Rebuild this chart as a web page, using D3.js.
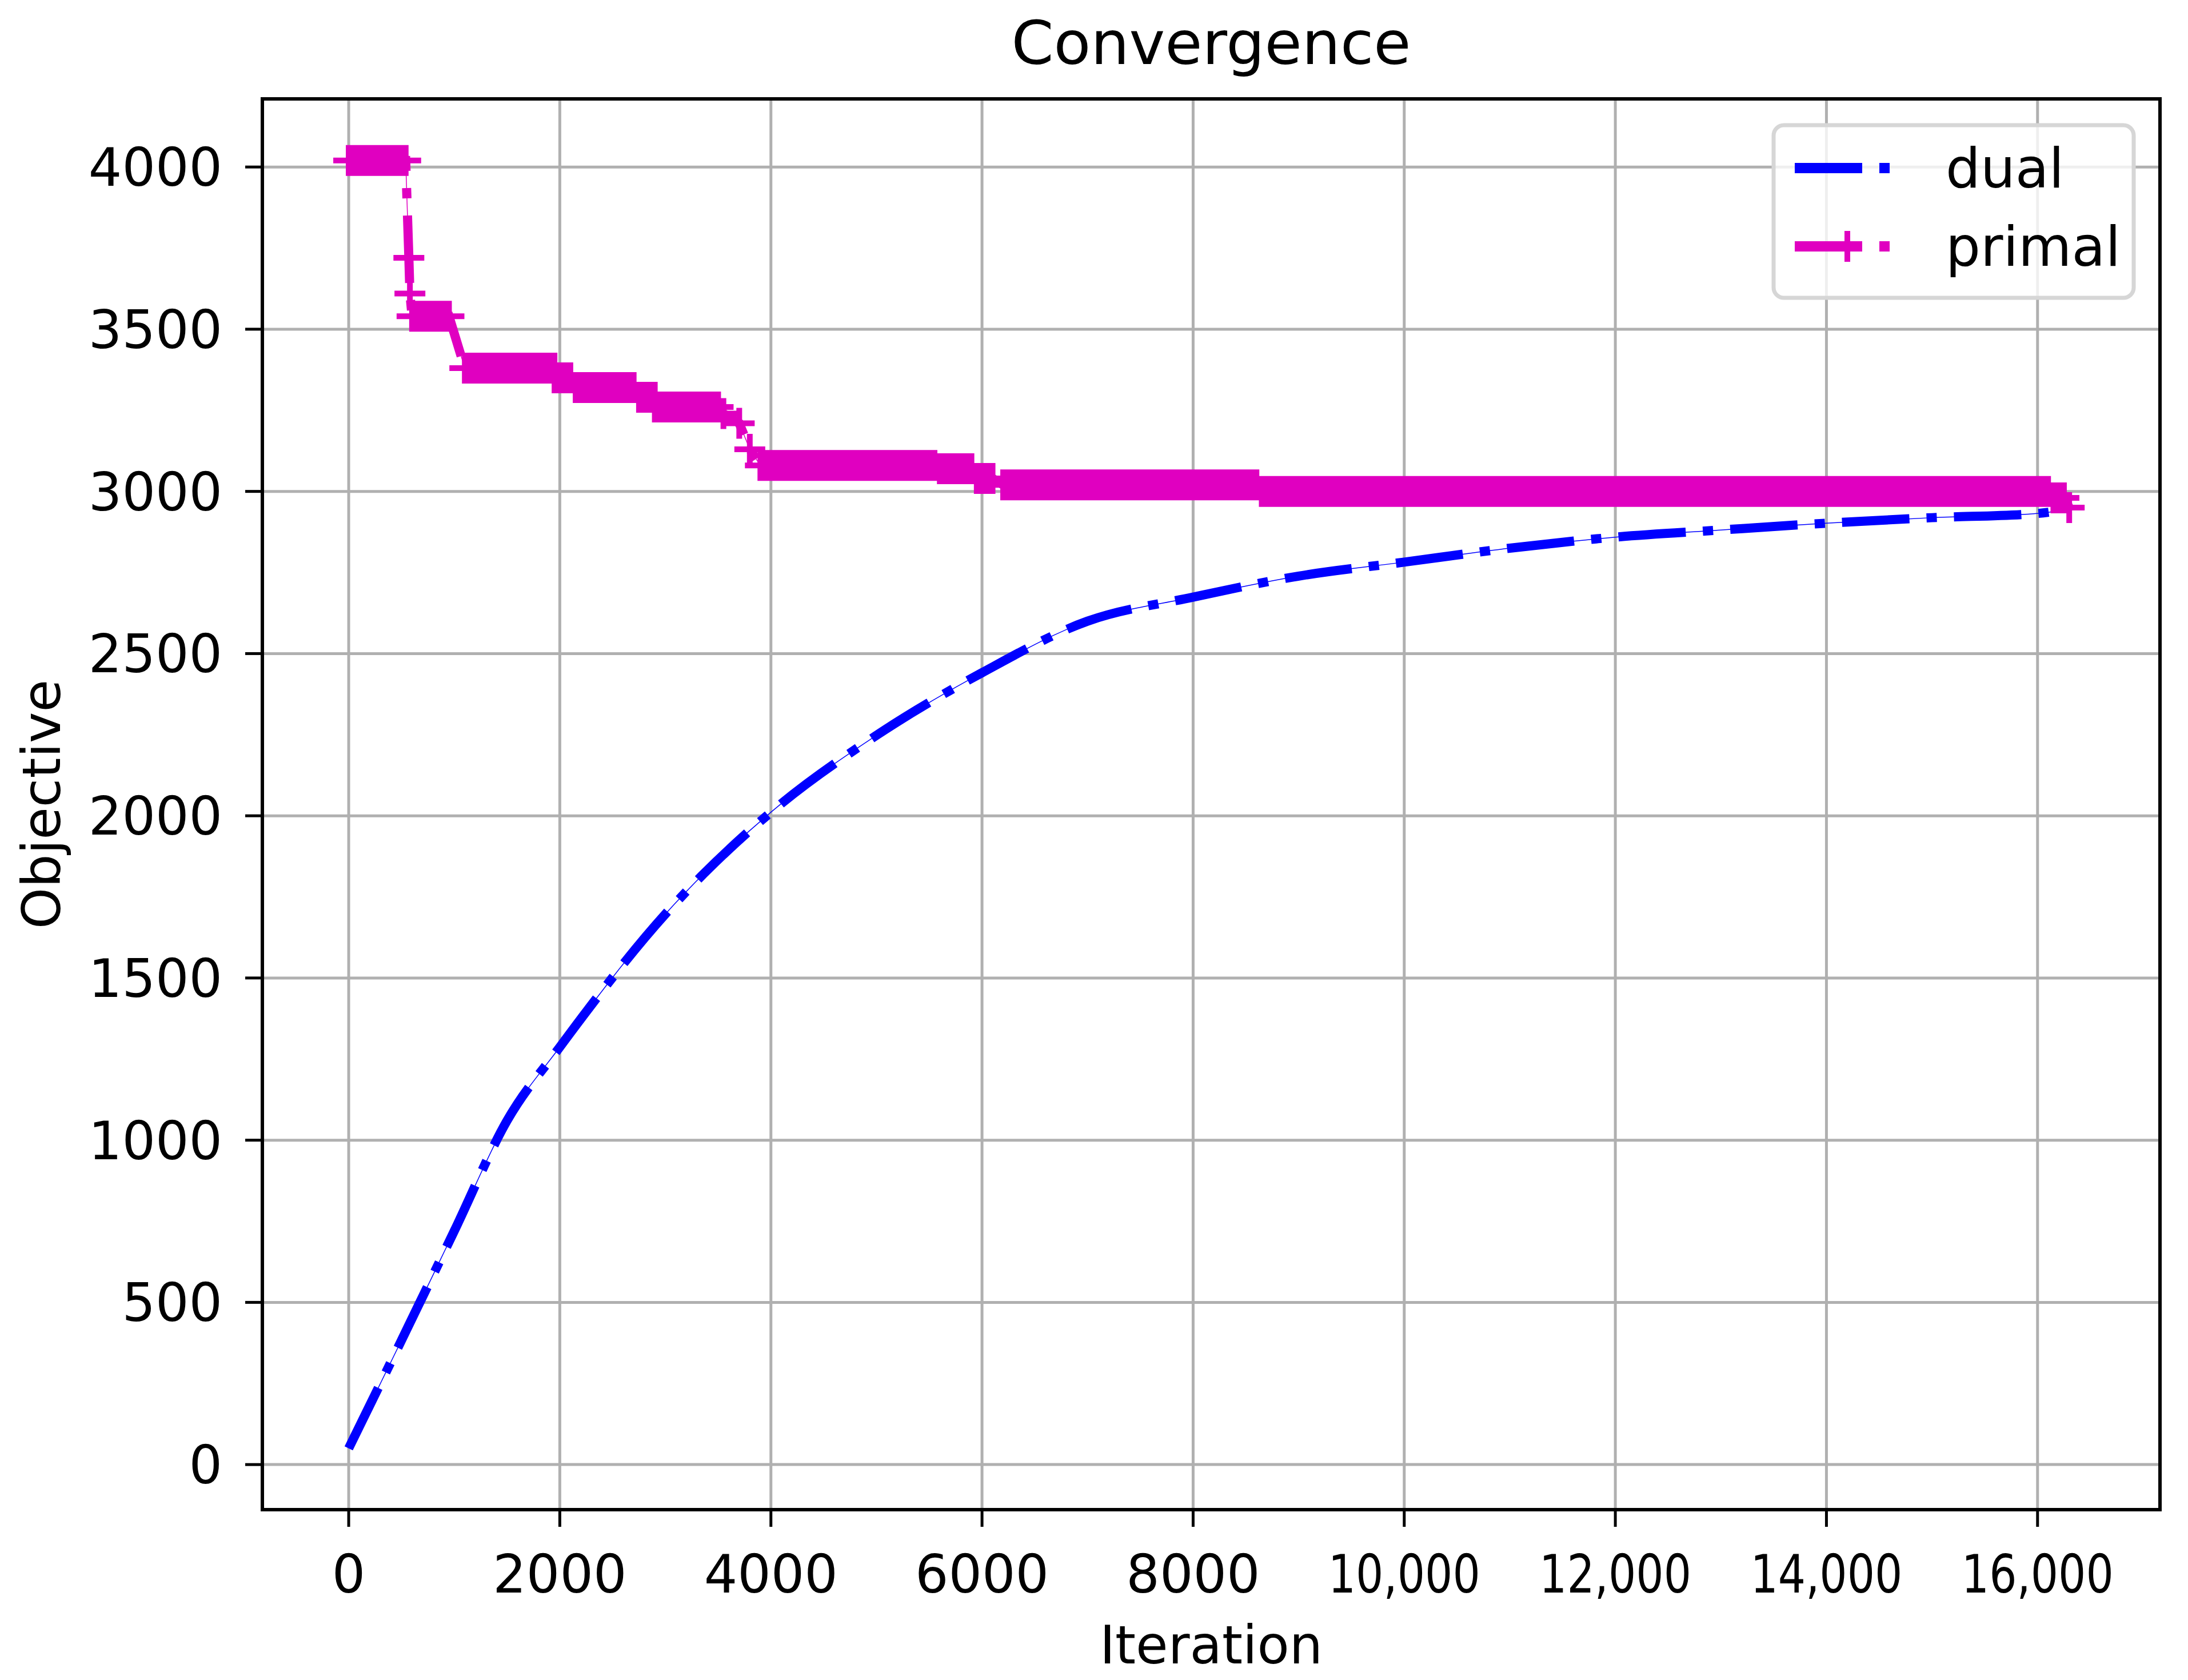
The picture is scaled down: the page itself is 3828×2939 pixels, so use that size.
<!DOCTYPE html>
<html><head><meta charset="utf-8">
<script src="https://cdn.jsdelivr.net/npm/d3@7"></script>
<style>html,body{margin:0;padding:0;background:#fff}</style>
</head><body>
<script>
const dualIter  = [0, 500, 1000, 1500, 2000, 3000, 4000, 5000, 6000, 7000, 8000, 9000, 10000, 11000, 12000, 13000, 14000, 15000, 16000, 16200];
const dualValue = [50, 383, 720, 1060, 1287, 1697, 2011, 2248, 2441, 2600, 2674, 2739, 2782, 2825, 2859, 2881, 2902, 2919, 2932, 2940];
// primal step segments: start iteration, end iteration, value
const primalStart = [0, 570, 580, 600, 1100, 1950, 2150, 2750, 2900, 3550, 3700, 3800, 3900, 5600, 5950, 6200, 8650, 16150, 16300];
const primalEnd   = [540, 570, 580, 950, 1950, 2100, 2700, 2900, 3500, 3550, 3700, 3800, 5550, 5900, 6100, 8600, 16100, 16250, 16300];
const primalValue = [4020, 3720, 3610, 3540, 3380, 3350, 3320, 3290, 3260, 3240, 3210, 3130, 3080, 3070, 3040, 3020, 3000, 2980, 2950];
const xTicks = [0, 2000, 4000, 6000, 8000, 10000, 12000, 14000, 16000];
const xTickLabels = ["0", "2000", "4000", "6000", "8000", "10,000", "12,000", "14,000", "16,000"];
const yTicks = [0, 500, 1000, 1500, 2000, 2500, 3000, 3500, 4000];

const W = 3828, H = 2939;
const L = 459, R = 3779, T = 173, B = 2641;
const svg = d3.select("body").append("svg").attr("width", W).attr("height", H)
  .style("font-family", "DejaVu Sans");
const x = d3.scaleLinear().domain([-818, 17160]).range([L, R]);
const y = d3.scaleLinear().domain([-139, 4210]).range([B, T]);

// grid
const g = svg.append("g");
g.selectAll(".gx").data(xTicks).join("line").attr("x1", d => x(d)).attr("x2", d => x(d))
  .attr("y1", T).attr("y2", B).attr("stroke", "#b0b0b0").attr("stroke-width", 5);
g.selectAll(".gy").data(yTicks).join("line").attr("y1", d => y(d)).attr("y2", d => y(d))
  .attr("x1", L).attr("x2", R).attr("stroke", "#b0b0b0").attr("stroke-width", 5);

const dash = "118,30,18,30";
const COLP = "#e000c0", COLD = "#0000ff";

// dual
const dualPts = dualIter.map((d, i) => [d, dualValue[i]]);
const dl = d3.line().x(d => x(d[0])).y(d => y(d[1])).curve(d3.curveMonotoneX);
svg.append("path").attr("d", dl(dualPts)).attr("fill", "none").attr("stroke", COLD).attr("stroke-width", 1.5);
svg.append("path").attr("d", dl(dualPts)).attr("fill", "none").attr("stroke", COLD)
  .attr("stroke-width", 16).attr("stroke-dasharray", dash);

// primal
const pp = [];
primalStart.forEach((s, i) => { pp.push([s, primalValue[i]]); if (primalEnd[i] > s) pp.push([primalEnd[i], primalValue[i]]); });
const pl = d3.line().x(d => x(d[0])).y(d => y(d[1]));
svg.append("path").attr("d", pl(pp)).attr("fill", "none").attr("stroke", COLP).attr("stroke-width", 1.5);
svg.append("path").attr("d", pl(pp)).attr("fill", "none").attr("stroke", COLP)
  .attr("stroke-width", 16).attr("stroke-dasharray", dash);
// markers (rendered along each held segment)
const marks = [];
primalStart.forEach((s, i) => {
  const e = primalEnd[i];
  for (let t = s; t <= e; t += 25) marks.push([t, primalValue[i]]);
  if ((e - s) % 25) marks.push([e, primalValue[i]]);
});
const ms = 27;
svg.append("path").attr("fill", "none").attr("stroke", COLP).attr("stroke-width", 10)
  .attr("d", marks.map(d => { const px = x(d[0]), py = y(d[1]);
    return `M${px - ms},${py}H${px + ms}M${px},${py - ms}V${py + ms}`; }).join(""));

// frame
svg.append("rect").attr("x", L).attr("y", T).attr("width", R - L).attr("height", B - T)
  .attr("fill", "none").attr("stroke", "#000").attr("stroke-width", 6);

// ticks
svg.selectAll(".tx").data(xTicks).join("line").attr("x1", d => x(d)).attr("x2", d => x(d))
  .attr("y1", B).attr("y2", B + 30).attr("stroke", "#000").attr("stroke-width", 5);
svg.selectAll(".txl").data(xTicks).join("text").attr("x", d => x(d)).attr("y", B + 145)
  .attr("text-anchor", "middle").attr("font-size", 92).text((d, i) => xTickLabels[i])
  .each(function (d, i) { if (xTickLabels[i].length > 5) d3.select(this).attr("textLength", 266).attr("lengthAdjust", "spacingAndGlyphs"); });
svg.selectAll(".ty").data(yTicks).join("line").attr("y1", d => y(d)).attr("y2", d => y(d))
  .attr("x1", L - 30).attr("x2", L).attr("stroke", "#000").attr("stroke-width", 5);
svg.selectAll(".tyl").data(yTicks).join("text").attr("x", L - 70).attr("y", d => y(d) + 33)
  .attr("text-anchor", "end").attr("font-size", 92).text(d => d);

// labels
svg.append("text").attr("x", (L + R) / 2).attr("y", 112).attr("text-anchor", "middle")
  .attr("font-size", 106).text("Convergence");
svg.append("text").attr("x", (L + R) / 2).attr("y", 2910).attr("text-anchor", "middle")
  .attr("font-size", 92).text("Iteration");
svg.append("text").attr("transform", `translate(105,${(T + B) / 2}) rotate(-90)`)
  .attr("text-anchor", "middle").attr("font-size", 92).text("Objective");

// legend
const lg = svg.append("g");
lg.append("rect").attr("x", 3103).attr("y", 219).attr("width", 630).attr("height", 302).attr("rx", 18)
  .attr("fill", "rgba(255,255,255,0.8)").attr("stroke", "#d6d6d6").attr("stroke-width", 7);
const leg = [{n: "dual", c: COLD, y: 294}, {n: "primal", c: COLP, y: 431}];
leg.forEach(d => {
  lg.append("line").attr("x1", 3140).attr("x2", 3307).attr("y1", d.y).attr("y2", d.y)
    .attr("stroke", d.c).attr("stroke-width", 18).attr("stroke-dasharray", dash);
  if (d.n === "primal") lg.append("path").attr("d", `M3232,${d.y - 27}V${d.y + 27}`)
    .attr("stroke", d.c).attr("stroke-width", 10);
  lg.append("text").attr("x", 3404).attr("y", d.y + 34).attr("font-size", 96).text(d.n);
});
</script>
</body></html>
